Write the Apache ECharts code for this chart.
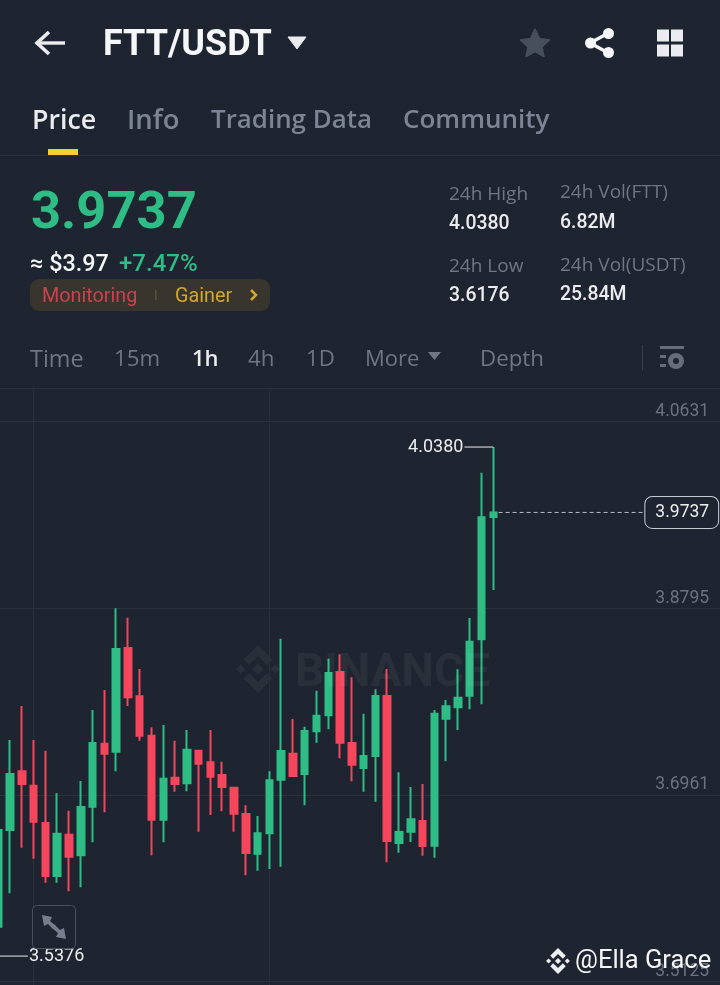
<!DOCTYPE html>
<html><head><meta charset="utf-8">
<style>html,body{margin:0;padding:0;background:#1e2530}#c{width:720px;height:985px}</style>
<script src="https://cdn.jsdelivr.net/npm/echarts@6/dist/echarts.min.js"></script>
</head><body><div id="c"></div>
<script>
const opens  =[3.5665,3.6615,3.7192,3.7051,3.6684,3.6163,3.6569,3.6367,3.6844,3.7464,3.7385,3.8405,3.7930,3.7542,3.6717,3.7130,3.7075,3.7395,3.7281,3.7156,3.7031,3.6773,3.6382,3.6583,3.7110,3.7365,3.7166,3.7586,3.7743,3.8169,3.7471,3.7225,3.7343,3.7933,3.6488,3.6599,3.6704,3.6461,3.7710,3.7822,3.7936,3.8490,3.9692];
const closes =[3.6615,3.7166,3.7068,3.6697,3.6163,3.6579,3.6353,3.6842,3.7471,3.7365,3.8395,3.7920,3.7542,3.6717,3.7120,3.7068,3.7405,3.7267,3.7139,3.7038,3.6776,3.6389,3.6583,3.7104,3.7392,3.7146,3.7589,3.7739,3.8159,3.7474,3.7257,3.7343,3.7933,3.6507,3.6596,3.6721,3.6458,3.7759,3.7831,3.7916,3.8466,3.9689,3.9737];
const lows   =[3.5376,3.5993,3.6441,3.6333,3.6097,3.6097,3.6013,3.6052,3.6495,3.6789,3.7192,3.7834,3.7493,3.6367,3.6495,3.6992,3.6996,3.6599,3.6763,3.6799,3.6599,3.6170,3.6215,3.6232,3.6255,3.7146,3.6858,3.7474,3.7605,3.7320,3.7094,3.6992,3.6894,3.6298,3.6392,3.6497,3.6363,3.6343,3.7291,3.7598,3.7802,3.7851,3.8975];
const highs  =[3.6665,3.7500,3.7834,3.7500,3.7395,3.6976,3.6805,3.7097,3.7795,3.7992,3.8795,3.8702,3.8198,3.7625,3.7648,3.7493,3.7598,3.7395,3.7598,3.7287,3.7035,3.6858,3.6753,3.7192,3.8496,3.7707,3.7631,3.7985,3.8299,3.8343,3.8116,3.7759,3.7998,3.8198,3.7183,3.7038,3.7068,3.7795,3.7893,3.8195,3.8699,4.0128,4.0380];
const priceTicks=[4.0631,3.8795,3.6961,3.5125];
const lastPrice=3.9737, dayHigh=4.0380, visibleLow=3.5376;
const slotCount=62;
const categories=Array.from({length:slotCount},(_,i)=>String(i));
const gridIdx=[3,23];
const Y_MIN=3.50917,Y_MAX=4.09603;

const FONT='"Open Sans"';
const NUM='Roboto';
const BG='#1e2530',GREEN='#2ebd85',RED='#f6465d',LINE='#2b323c',MUTED='#6f7784';

function T(x,y,text,size,fill,o={}){return {type:'text',x,y,z:o.z||50,silent:true,style:Object.assign({text,fill,font:`${o.weight||400} ${size}px ${o.font||FONT}`,textVerticalAlign:'middle',verticalAlign:'middle',align:o.align||'left'},o.style||{})};}
function R(x,y,w,h,fill,r){return {type:'rect',z:50,silent:true,shape:{x,y,width:w,height:h,r:r||0},style:{fill}};}
function H(y){return {type:'line',z:1,silent:true,shape:{x1:0,y1:y,x2:720,y2:y},style:{stroke:LINE,lineWidth:1}};}
function logo(cx,cy,r,fill,z){
  const P=pts=>({type:'polygon',z,silent:true,shape:{points:pts.map(p=>[cx+p[0]*r,cy+p[1]*r])},style:{fill}});
  return [
    P([[0,-.24],[.24,0],[0,.24],[-.24,0]]),
    P([[-.72,-.2],[-.52,0],[-.72,.2],[-.92,0]]),
    P([[.72,-.2],[.92,0],[.72,.2],[.52,0]]),
    P([[0,-1],[.6,-.4],[.37,-.17],[0,-.54],[-.37,-.17],[-.6,-.4]]),
    P([[0,1],[.6,.4],[.37,.17],[0,.54],[-.37,.17],[-.6,.4]])
  ];
}
const graphics=[
  H(155.5),H(388.5),
  {type:'polyline',z:50,silent:true,shape:{points:[[49,32],[37,43],[49,54]]},style:{stroke:'#eaecef',lineWidth:3.6,fill:null}},
  {type:'line',z:50,silent:true,shape:{x1:38,y1:43,x2:65,y2:43},style:{stroke:'#eaecef',lineWidth:3.4}},
  T(103,46,'FTT/USDT',36,'#f5f6f7',{weight:700,font:NUM}),
  {type:'polygon',z:50,silent:true,shape:{points:[[288,37],[306,37],[297,49]]},style:{fill:'#eaecef',stroke:'#eaecef',lineJoin:'round',lineWidth:1}},
  {type:'polygon',z:50,silent:true,shape:{points:[[535,29],[539.5,38.5],[549.5,40],[542,47],[544,56.5],[535,51.5],[526,56.5],[528,47],[520.5,40],[530.5,38.5]]},style:{fill:'#474f5c',stroke:'#474f5c',lineWidth:1.5,lineJoin:'round'}},
  {type:'polyline',z:50,silent:true,shape:{points:[[608.5,33],[590,43],[608.5,53]]},style:{stroke:'#f5f6f7',lineWidth:3.4,fill:null}},
  {type:'circle',z:50,silent:true,shape:{cx:608.5,cy:33.5,r:5.5},style:{fill:'#f5f6f7'}},
  {type:'circle',z:50,silent:true,shape:{cx:590.5,cy:43,r:5.5},style:{fill:'#f5f6f7'}},
  {type:'circle',z:50,silent:true,shape:{cx:608.5,cy:52.5,r:5.5},style:{fill:'#f5f6f7'}},
  R(657,29.5,12,12,'#eaecef'),R(671,29.5,12,12,'#eaecef'),R(657,44.5,12,12,'#eaecef'),R(671,44.5,12,12,'#eaecef'),
  T(32,121,'Price',26.8,'#eaecef',{weight:600}),
  T(127,121,'Info',27.4,'#7d8595',{weight:600}),
  T(211,121,'Trading Data',25.9,'#7d8595',{weight:600}),
  T(403,121,'Community',26,'#7d8595',{weight:600}),
  R(48,149,30,6,'#f5d030'),
  T(31,214.5,'3.9737',52.5,GREEN,{weight:700,font:NUM}),
  T(30,265,'≈ $3.97',23.4,'#f5f6f7',{weight:500,font:NUM}),
  T(119,265,'+7.47%',24,GREEN,{weight:500,font:NUM}),
  R(30,279,240,32,'#38342e',9),
  T(42,297,'Monitoring',19.8,'#c8434f',{font:NUM}),
  R(155,290,1.5,10,'#5a5238'),
  T(175,297,'Gainer',19.8,'#d4a72c',{font:NUM}),
  {type:'polyline',z:50,silent:true,shape:{points:[[251,290],[256,295],[251,300]]},style:{stroke:'#d4a72c',lineWidth:2.5,fill:null}},
  T(449,195,'24h High',19,MUTED),
  T(449,224,'4.0380',19.4,'#eaecef',{weight:500,font:NUM}),
  T(560,193,'24h Vol(FTT)',19,MUTED),
  T(560,223,'6.82M',19.4,'#eaecef',{weight:500,font:NUM}),
  T(449,267,'24h Low',19,MUTED),
  T(449,296,'3.6176',19.4,'#eaecef',{weight:500,font:NUM}),
  T(560,266,'24h Vol(USDT)',19,MUTED),
  T(560,295,'25.84M',19.4,'#eaecef',{weight:500,font:NUM}),
  T(30,360,'Time',23.4,MUTED),
  T(114,360,'15m',22.3,MUTED),
  T(192,360,'1h',22,'#eaecef',{weight:600}),
  T(248,360,'4h',22.3,MUTED),
  T(306,360,'1D',22.3,MUTED),
  T(365,360,'More',22,MUTED),
  {type:'polygon',z:50,silent:true,shape:{points:[[428,352],[441,352],[434.5,360]]},style:{fill:MUTED}},
  T(480,360,'Depth',22.3,MUTED),
  R(642,345,1,25,'#363d48'),
  R(660,346,24,3,'#666e7b'),
  R(660,355,6,3,'#666e7b'),R(660,364,6,3,'#666e7b'),
  {type:'ring',z:50,silent:true,shape:{cx:676,cy:361,r:8,r0:3},style:{fill:'#666e7b'}},
  {type:'rect',z:50,silent:true,shape:{x:32.5,y:905.5,width:43,height:43,r:4},style:{fill:BG,stroke:'#4a515d',lineWidth:1}},
  {type:'polygon',z:50,silent:true,shape:{points:[[42,915],[52,917],[50,921],[56,926],[53,929],[48,924],[44,926]]},style:{fill:'#767e8c'}},
  {type:'polygon',z:50,silent:true,shape:{points:[[66,939],[56,937],[58,933],[52,928],[55,925],[60,930],[64,928]]},style:{fill:'#767e8c'}},
  ...logo(258,669,24,'rgba(255,255,255,0.05)',0),
  T(295,674,'BINANCE',46,'rgba(255,255,255,0.05)',{weight:700,z:0,font:NUM}),
  ...logo(558,961,13,'#eceef0',100),
  T(575,962,'@Ella Grace',25.5,'#f5f6f7',{z:100,font:'Roboto'})
];
const guide=(name,d,style,z)=>({name,type:'line',xAxisIndex:1,yAxisIndex:0,data:d,symbol:'circle',symbolSize:0.01,showSymbol:true,showAllSymbol:true,silent:true,animation:false,z:z||3,lineStyle:style,itemStyle:{color:'transparent'},emphasis:{disabled:true}});
const lbl=(position,text)=>({show:true,position,distance:1,formatter:text,color:'#eaecef',fontSize:18,fontFamily:NUM});

const option={
  backgroundColor:BG,animation:false,
  grid:{left:-7.6,right:-3.13,top:388,bottom:0,outerBoundsMode:'none'},
  xAxis:[
    {type:'category',data:categories,show:false,boundaryGap:true},
    {type:'value',min:-0.5,max:slotCount-0.5,show:false}
  ],
  yAxis:{type:'value',position:'right',min:Y_MIN,max:Y_MAX,scale:true,
    axisLine:{show:false},
    axisTick:{show:false,customValues:priceTicks},
    splitLine:{show:true,lineStyle:{color:LINE,width:1}},
    axisLabel:{inside:true,customValues:priceTicks,margin:14,verticalAlign:'bottom',align:'right',color:'#6a7280',fontSize:17.5,fontFamily:NUM,formatter:v=>v.toFixed(4),lineHeight:20}
  },
  graphic:{elements:graphics},
  series:[
    guide('g1',gridIdx.slice(0,1).flatMap(i=>[[i,Y_MIN],[i,Y_MAX]]),{color:LINE,width:1},1),
    guide('g2',gridIdx.slice(1).flatMap(i=>[[i,Y_MIN],[i,Y_MAX]]),{color:LINE,width:1},1),
    {name:'FTT/USDT',type:'candlestick',xAxisIndex:0,yAxisIndex:0,barWidth:7,z:2,silent:true,
      data:opens.map((o,i)=>[o,closes[i],lows[i],highs[i]]),
      itemStyle:{color:GREEN,color0:RED,borderColor:GREEN,borderColor0:RED,borderWidth:2}},
    guide('last',[[42.45,lastPrice],{value:[54.9,lastPrice],label:{show:true,position:'right',distance:0,formatter:lastPrice.toFixed(4),color:'#eaecef',fontSize:17.5,fontFamily:NUM,backgroundColor:BG,borderColor:'#c8ccd2',borderWidth:1,borderRadius:7,padding:[6,9,7,10]}}],{color:'#b8bcc2',width:1,type:[4,3]}),
    guide('high',[[42,dayHigh],{value:[39.55,dayHigh],label:lbl('left',dayHigh.toFixed(4))}],{color:'#eaecef',width:1}),
    guide('low',[[0,visibleLow],{value:[2.52,visibleLow],label:lbl('right',visibleLow.toFixed(4))}],{color:'#eaecef',width:1})
  ]
};
const chart=echarts.init(document.getElementById('c'),null,{renderer:'canvas',width:720,height:985});
chart.setOption(option);
</script></body></html>
